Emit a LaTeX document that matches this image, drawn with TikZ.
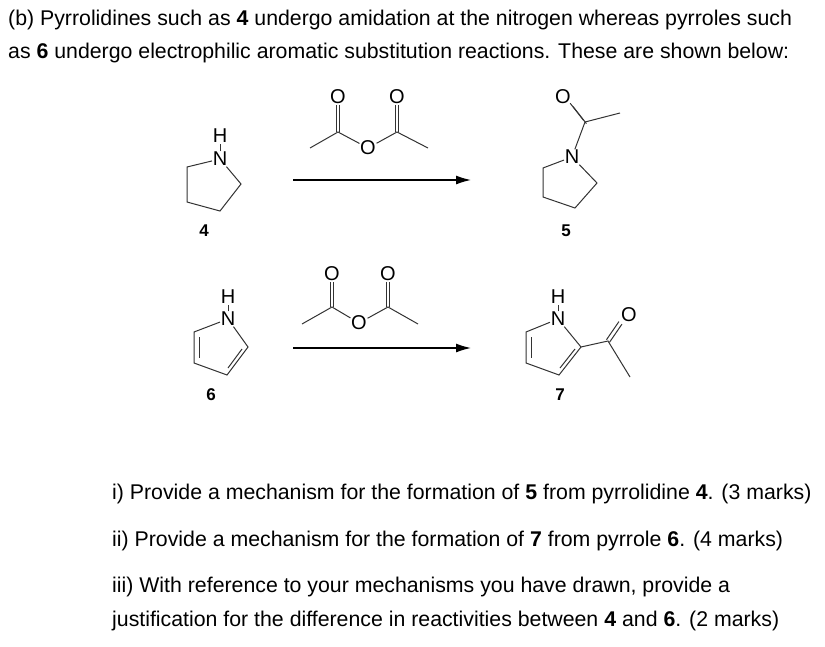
\documentclass[tikz,border=0pt]{standalone}
\usepackage{fontspec}
\setmainfont{Liberation Sans}
\usetikzlibrary{arrows.meta}
\begin{document}
\begin{tikzpicture}[x=1pt,y=-1pt,
  txt/.style={anchor=base west,inner sep=0pt,font=\fontsize{21.3}{24}\selectfont},
  atom/.style={inner sep=0.6pt,font=\fontsize{20}{22}\selectfont},
  lbl/.style={inner sep=0pt,font=\bfseries\fontsize{17}{19}\selectfont},
  bond/.style={line width=1pt,draw=black!80},
  rxn/.style={line width=1.3pt,-{Latex[length=15pt,width=9pt]}}]
\useasboundingbox (0,0) rectangle (825,646);
\node[txt] (t1) at (8,25) {(b) Pyrrolidines such as \textbf{4} undergo amidation at the nitrogen whereas pyrroles such};
\node[txt] (t2) at (8,58) {as \textbf{6} undergo electrophilic aromatic substitution reactions. These are shown below:};
\node[txt] (q1) at (112,499) {i) Provide a mechanism for the formation of \textbf{5} from pyrrolidine \textbf{4}. (3 marks)};
\node[txt] (q2) at (112,546) {ii) Provide a mechanism for the formation of \textbf{7} from pyrrole \textbf{6}. (4 marks)};
\node[txt] (q3) at (112,592) {iii) With reference to your mechanisms you have drawn, provide a};
\node[txt] (q4) at (112,626) {justification for the difference in reactivities between \textbf{4} and \textbf{6}. (2 marks)};
% pyrrolidine 4
\node[atom] (aN) at (220,159) {N};
\node[atom] (aH) at (220,136) {H};
\coordinate (a1) at (187,167); \coordinate (a2) at (187,202);
\coordinate (a3) at (220,211); \coordinate (a4) at (241,184);
\draw[bond] (aN)--(aH);
\draw[bond] (aN)--(a1)--(a2)--(a3)--(a4)--(aN);
\node[lbl] (l4) at (204,231) {4};
% anhydride 1
\node[atom] (b1) at (338,97) {O}; \coordinate (bc1) at (338,132); \coordinate (bm1) at (310,148);
\node[atom] (bo) at (368,148) {O}; \coordinate (bc2) at (397,132);
\node[atom] (b2) at (397,97) {O}; \coordinate (bm2) at (428,148);
\draw[bond] (bm1)--(bc1)--(bo)--(bc2)--(bm2);
\draw[bond] ([xshift=-1.8]b1.south)--([xshift=-1.8]bc1) ([xshift=1.8]b1.south)--([xshift=1.8]bc1);
\draw[bond] ([xshift=-1.8]b2.south)--([xshift=-1.8]bc2) ([xshift=1.8]b2.south)--([xshift=1.8]bc2);
\coordinate (r1s) at (293,180); \coordinate (r1e) at (471,180);
\draw[rxn] (r1s)--(r1e);
% product 5
\node[atom] (cN) at (572,157) {N};
\coordinate (cc) at (585,122); \node[atom] (cO) at (563,97) {O}; \coordinate (cm) at (620,113);
\coordinate (c1) at (543,168); \coordinate (c2) at (543,197);
\coordinate (c3) at (575,208); \coordinate (c4) at (597,183);
\draw[bond] (cN)--(c1)--(c2)--(c3)--(c4)--(cN);
\draw[bond] (cN)--(cc)--(cm);
\draw[bond] ([shift={(1.4,1.6)}]cO.south east)--([shift={(1.4,1.6)}]cc);
\draw[bond] ([shift={(-1.4,-1.6)}]cO.south east)--([shift={(-1.4,-1.6)}]cc);
\node[lbl] (l5) at (566,231) {5};
% pyrrole 6
\node[atom] (dN) at (228,319) {N};
\node[atom] (dH) at (228,297) {H};
\coordinate (d1) at (194,332); \coordinate (d2) at (194,363);
\coordinate (d3) at (227,375); \coordinate (d4) at (248,347);
\draw[bond] (dN)--(dH);
\draw[bond] (dN)--(d1)--(d2)--(d3)--(d4)--(dN);
\draw[bond] (199,337)--(199,358);
\draw[bond] (228,368)--(242,349);
\node[lbl] (l6) at (211,395) {6};
% anhydride 2
\node[atom] (e1) at (332,274) {O}; \coordinate (ec1) at (332,307); \coordinate (em1) at (302,324);
\node[atom] (eo) at (359,323) {O}; \coordinate (ec2) at (388,307);
\node[atom] (e2) at (388,274) {O}; \coordinate (em2) at (418,324);
\draw[bond] (em1)--(ec1)--(eo)--(ec2)--(em2);
\draw[bond] ([xshift=-1.8]e1.south)--([xshift=-1.8]ec1) ([xshift=1.8]e1.south)--([xshift=1.8]ec1);
\draw[bond] ([xshift=-1.8]e2.south)--([xshift=-1.8]ec2) ([xshift=1.8]e2.south)--([xshift=1.8]ec2);
\coordinate (r2s) at (293,348); \coordinate (r2e) at (471,348);
\draw[rxn] (r2s)--(r2e);
% product 7
\node[atom] (fN) at (558,319) {N};
\node[atom] (fH) at (558,297) {H};
\coordinate (f1) at (526,332); \coordinate (f2) at (526,363);
\coordinate (f3) at (559,375); \coordinate (f4) at (581,347);
\draw[bond] (fN)--(fH);
\draw[bond] (fN)--(f1)--(f2)--(f3)--(f4)--(fN);
\draw[bond] (531,337)--(531,358);
\draw[bond] (560,368)--(575,349);
\coordinate (fc) at (608,341); \node[atom] (fO) at (629,315) {O}; \coordinate (fm) at (630,377);
\draw[bond] (f4)--(fc)--(fm);
\draw[bond] ([shift={(-1.5,-1.3)}]fc)--([shift={(-1.5,-1.3)}]fO.south west);
\draw[bond] ([shift={(1.5,1.3)}]fc)--([shift={(1.5,1.3)}]fO.south west);
\node[lbl] (l7) at (560,395) {7};
\end{tikzpicture}
\end{document}
